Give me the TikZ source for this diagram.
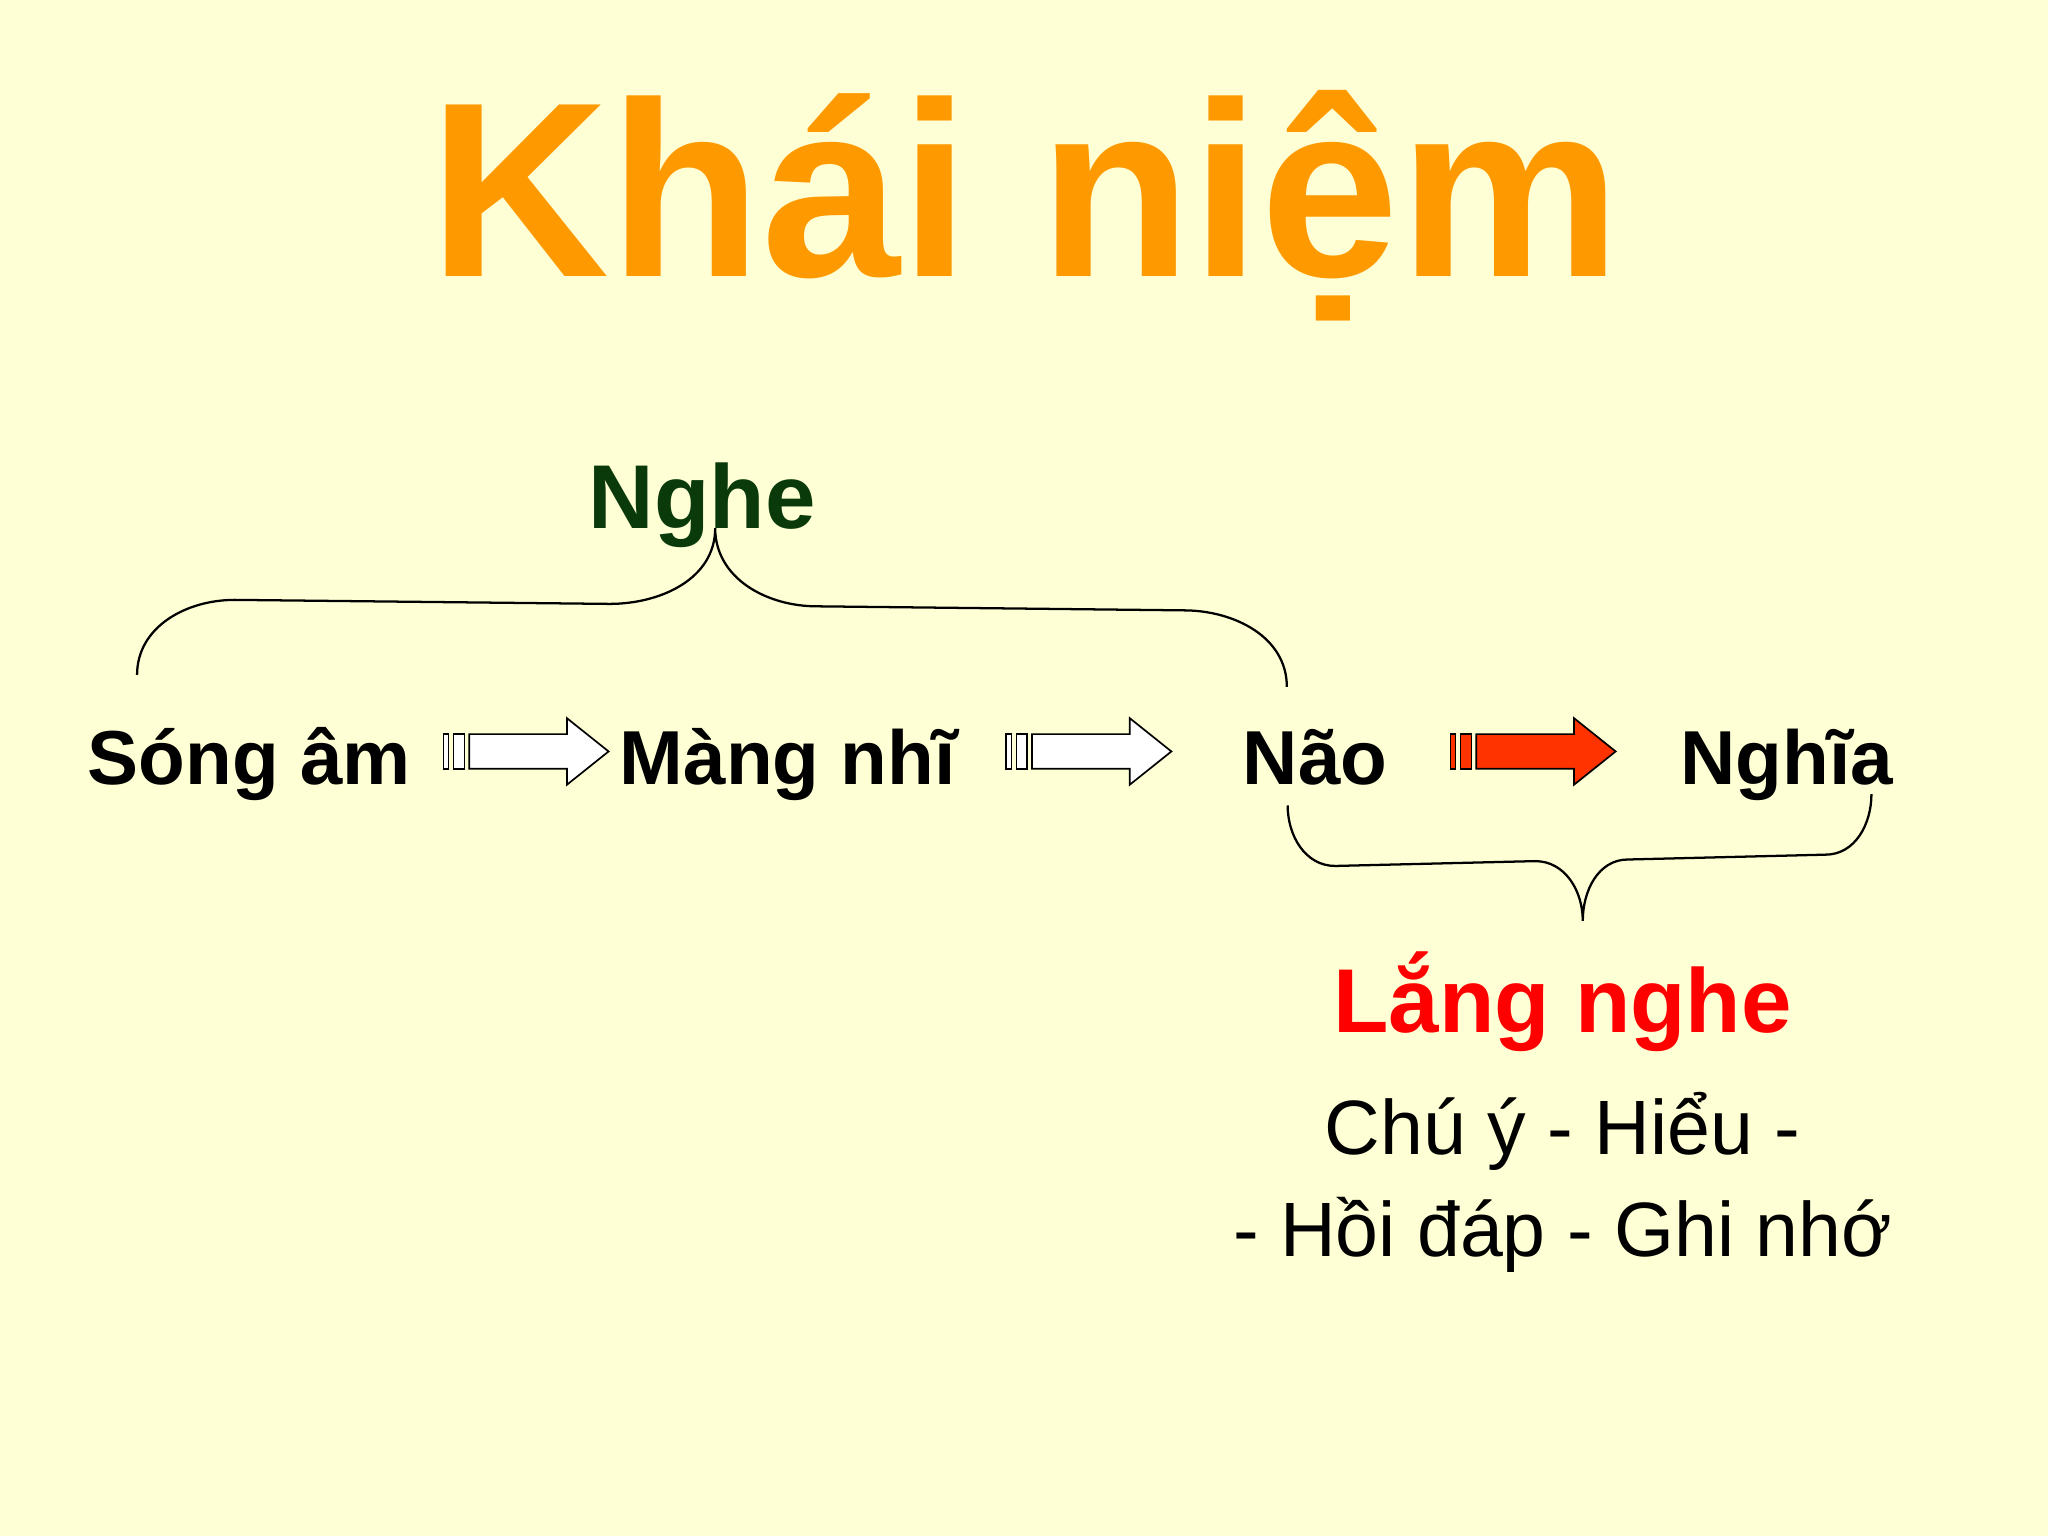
\documentclass[tikz,border=0pt]{standalone}
\usepackage{fontspec}
\setmainfont{Liberation Sans}
\definecolor{slidebg}{HTML}{FFFFD6}
\definecolor{titleorange}{HTML}{FF9900}
\definecolor{nghegreen}{HTML}{0A3A0A}
\definecolor{arrowred}{HTML}{FF3300}
% block arrow with two bars at the tail: #1 start point, #2 fill
\newcommand{\bararrow}[2]{
    \begin{scope}[shift={#1}, line width=0.6pt, line join=miter]
        \filldraw [fill=#2] (0, -0.215) rectangle (0.063, 0.215);
        \filldraw [fill=#2] (0.125, -0.215) rectangle (0.261, 0.215);
        \filldraw [fill=#2] (0.319, -0.215) -- (1.531, -0.215) -- (1.531, -0.413)
            -- (2.048, 0) -- (1.531, 0.413) -- (1.531, 0.215) -- (0.319, 0.215) -- cycle;
    \end{scope}
}
\begin{document}
\begin{tikzpicture}[
        word/.style = {anchor=base, inner sep=0pt, font=\fontsize{27}{33}\selectfont\bfseries},
        plain/.style = {anchor=base, inner sep=0pt, font=\fontsize{27.2}{33}\selectfont},
        brace/.style = {line width=0.8pt}
    ]
        \fill [slidebg] (0, 0) rectangle (25.4, 19.05);
        \useasboundingbox (0, 0) rectangle (25.4, 19.05);
        \node [anchor=base, inner sep=0pt, text=titleorange, font=\fontsize{88}{100}\selectfont\bfseries] (title) at (12.72, 15.62) {Khái niệm};
        \node [word, text=nghegreen, font=\fontsize{32}{38}\selectfont\bfseries] (nghe) at (8.71, 12.49) {Nghe};
        \node [word] (song) at (3.09, 9.32) {Sóng âm};
        \node [word] (mang) at (9.77, 9.32) {Màng nhĩ};
        \node [word] (nao) at (16.31, 9.32) {Não};
        \node [word] (nghia) at (22.16, 9.32) {Nghĩa};
        \bararrow{(5.50, 9.73)}{white}
        \bararrow{(12.48, 9.73)}{white}
        \bararrow{(17.99, 9.73)}{arrowred}
        \draw [brace] (1.70, 10.68) to [out=90, in=180] (2.91, 11.61) -- (7.56, 11.56)
            to [out=0, in=-90] (8.87, 12.50) to [out=-90, in=180] (10.13, 11.53)
            -- (14.68, 11.48) to [out=0, in=90] (15.96, 10.53);
        \draw [brace] (15.97, 9.06) to [out=-90, in=180] (16.56, 8.31) -- (19.04, 8.37)
            to [out=0, in=90] (19.63, 7.63) to [out=90, in=180] (20.19, 8.39)
            -- (22.64, 8.45) to [out=0, in=-90] (23.21, 9.20);
        \node [word, text=red, font=\fontsize{32}{38}\selectfont\bfseries] (lang) at (19.38, 6.25) {Lắng nghe};
        \node [plain] (line1) at (19.38, 4.73) {Chú ý - Hiểu -};
        \node [plain] (line2) at (19.38, 3.47) {- Hồi đáp - Ghi nhớ};
    \end{tikzpicture}
\end{document}
